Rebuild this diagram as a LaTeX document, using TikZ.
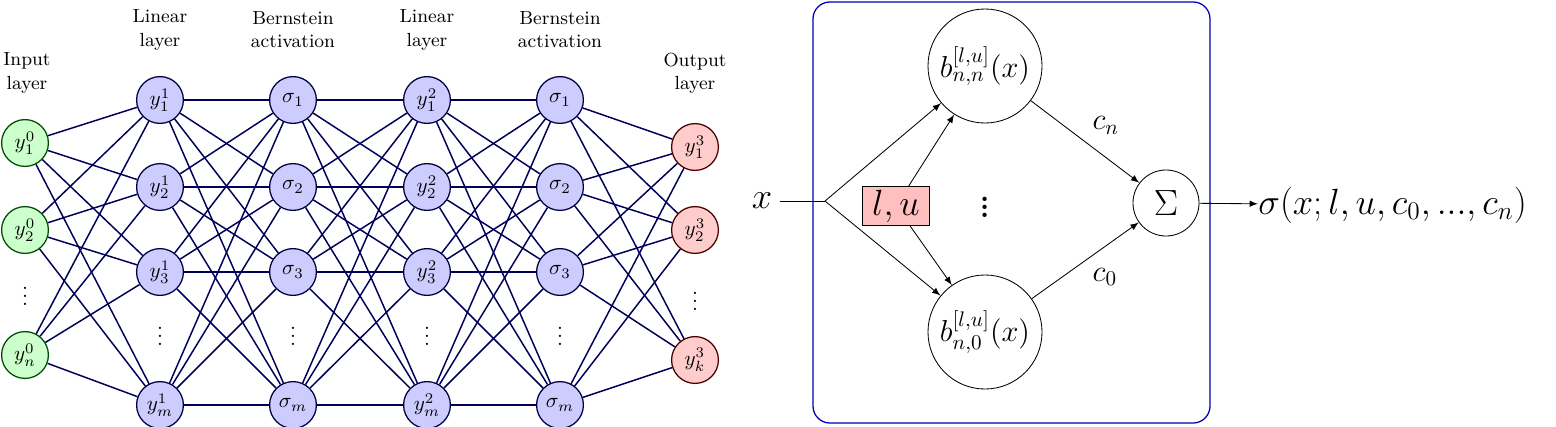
\documentclass[tikz,border=0pt]{standalone}
\usepackage{amsmath}
\usetikzlibrary{calc,positioning,arrows,shapes.geometric}
\begin{document}
\begin{tikzpicture}[x=0.016667cm,y=-0.016667cm]
      \tikzstyle{neuron}=[circle,draw=black!80,line width=.6pt,minimum size=0.78cm,inner sep=0pt]
      \tikzstyle{inp}=[neuron,fill=green!20,draw=green!30!black]
      \tikzstyle{hid}=[neuron,fill=blue!20,draw=blue!25!black]
      \tikzstyle{outp}=[neuron,fill=red!20,draw=red!30!black]
      \tikzstyle{conn}=[draw=blue!35!black,line width=.7pt]
      \tikzstyle{head}=[align=center,font=\small,inner sep=0pt]
      \tikzstyle{bern}=[circle,draw,minimum size=1.9cm,inner sep=0pt]
      \useasboundingbox (0,0) rectangle (1556,426);
      % headers
      \node[head] at (27,73) {Input\\layer};
      \node[head] at (160,30) {Linear\\layer};
      \node[head] at (293,30) {Bernstein\\activation};
      \node[head] at (427,30) {Linear\\layer};
      \node[head] at (560,30) {Bernstein\\activation};
      \node[head] at (695,73) {Output\\layer};
      % input layer
      \node[inp] (i1) at (25,143) {$y^0_1$};
      \node[inp] (i2) at (25,230) {$y^0_2$};
      \node[inp] (i3) at (25,355) {$y^0_n$};
      \node at (25,290) {$\vdots$};
      % hidden layers
      \foreach \x in {160,293,427,560}{
        \node at (\x,330) {$\vdots$};
      }
      \node[hid] (a1) at (160,100) {$y^1_1$};
      \node[hid] (a2) at (160,187) {$y^1_2$};
      \node[hid] (a3) at (160,272) {$y^1_3$};
      \node[hid] (a4) at (160,405) {$y^1_m$};
      \node[hid] (c1) at (427,100) {$y^2_1$};
      \node[hid] (c2) at (427,187) {$y^2_2$};
      \node[hid] (c3) at (427,272) {$y^2_3$};
      \node[hid] (c4) at (427,405) {$y^2_m$};
      \foreach \c/\x in {b/293,d/560}{
        \node[hid] (\c1) at (\x,100) {$\sigma_1$};
        \node[hid] (\c2) at (\x,187) {$\sigma_2$};
        \node[hid] (\c3) at (\x,272) {$\sigma_3$};
        \node[hid] (\c4) at (\x,405) {$\sigma_m$};
      }
      % output layer
      \node[outp] (o1) at (695,147) {$y^3_1$};
      \node[outp] (o2) at (695,230) {$y^3_2$};
      \node[outp] (o3) at (695,360) {$y^3_k$};
      \node at (695,295) {$\vdots$};
      % connections
      \foreach \i in {1,2,3}
        \foreach \j in {1,...,4}{
          \draw[conn] (i\i) -- (a\j);
          \draw[conn] (d\j) -- (o\i);
        }
      \foreach \s/\t in {a/b,b/c,c/d}
        \foreach \i in {1,...,4}
          \foreach \j in {1,...,4}
            \draw[conn] (\s\i) -- (\t\j);

      % Bernstein activation block
      \draw[blue!70!black,rounded corners=8pt,line width=.6pt] (813,2) rectangle (1210,423);
      \node[font=\LARGE] (x) at (762,201) {$x$};
      \coordinate (br) at (825,201);
      \node[bern] (bn) at (985,66) {\Large$b^{[l,u]}_{n,n}(x)$};
      \node[bern] (b0) at (985,332) {\Large$b^{[l,u]}_{n,0}(x)$};
      \node[draw,fill=red!25,minimum width=1.12cm,minimum height=0.64cm,inner sep=0pt,font=\LARGE] (lu) at (896,206) {$l,u$};
      \node[circle,draw,minimum size=1.1cm,inner sep=0pt,font=\LARGE] (sum) at (1166,203) {$\Sigma$};
      \node[font=\Huge] at (985,201) {$\vdots$};
      \node[font=\LARGE,anchor=west,inner sep=0pt] (out) at (1258,205) {$\sigma(x;l,u,c_0,...,c_n)$};
      \draw (x) -- (br);
      \draw[-latex] (br) -- (bn);
      \draw[-latex] (br) -- (b0);
      \draw[-latex] (lu) -- (bn);
      \draw[-latex] (lu) -- (b0);
      \draw[-latex] (bn) -- (sum) node[midway,above right,font=\Large] {$c_n$};
      \draw[-latex] (b0) -- (sum) node[midway,below right,font=\Large] {$c_0$};
      \draw[-latex] (sum) -- (out);
\end{tikzpicture}
\end{document}
